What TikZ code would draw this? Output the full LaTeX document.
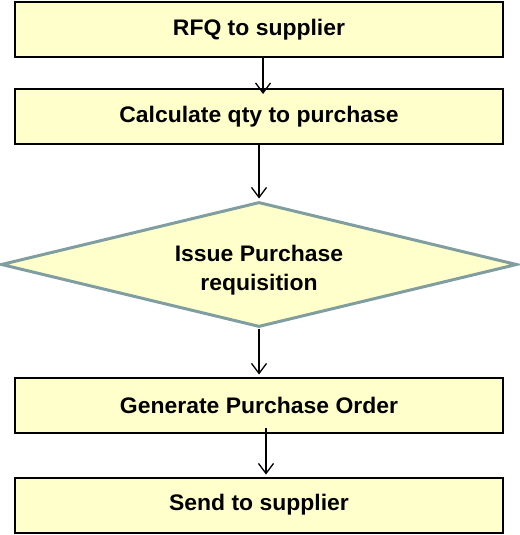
\documentclass[tikz,border=0pt]{standalone}
\usepackage{fontspec}
\setmainfont{Liberation Sans}[FakeStretch=1.02]
\usetikzlibrary{shapes.geometric,arrows.meta}
\definecolor{boxfill}{RGB}{255,255,204}
\definecolor{diaedge}{RGB}{128,158,160}
\tikzset{
  stepbox/.style={draw=black, line width=2pt, fill=boxfill, rectangle,
    minimum width=488pt, minimum height=55pt, inner sep=0pt,
    font=\fontsize{22.5}{29}\selectfont\bfseries},
  decbox/.style={draw=diaedge, line width=3pt, fill=boxfill, diamond, aspect=4.13,
    minimum width=516pt, minimum height=125pt, inner sep=0pt, align=center,
    font=\fontsize{22.5}{29}\selectfont\bfseries},
  arr/.style={line width=1.3pt, -{Straight Barb[length=10pt,width=15pt,line width=1.3pt]}}
}
\begin{document}
\begin{tikzpicture}[x=1pt,y=-1pt]
\useasboundingbox (0,0) rectangle (519,535);
\node[stepbox] (b1) at (259,29.5) {RFQ to supplier};
\node[stepbox] (b2) at (259,116.5) {Calculate qty to purchase};
\node[decbox] (d) at (259,264.5) {\rule{0pt}{28pt}Issue Purchase\\requisition};
\node[stepbox] (b3) at (259,405) {Generate Purchase Order};
\node[stepbox] (b4) at (259,505) {Send to supplier};
\draw[arr, shorten >=-6pt] ([xshift=4pt]b1.south) -- ([xshift=4pt]b2.north);
\draw[arr, shorten >=2pt] (b2.south) -- (d.north);
\draw[arr, shorten >=2pt] (d.south) -- (b3.north);
\draw[arr, shorten <=-6pt, shorten >=2pt] ([xshift=7pt]b3.south) -- ([xshift=7pt]b4.north);
\end{tikzpicture}
\end{document}
